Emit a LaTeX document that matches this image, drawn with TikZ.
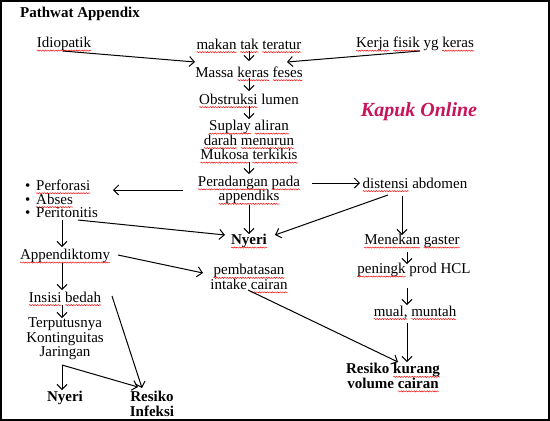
\documentclass[tikz,border=0pt]{standalone}
\usepackage{fontspec}
\setmainfont{Liberation Serif}
\usetikzlibrary{arrows.meta,calc,decorations.pathmorphing}
\definecolor{kapuk}{RGB}{200,20,90}
\newsavebox\rwbox
\newlength\rwlen
\newcommand\rw[1]{\sbox\rwbox{#1}\setlength\rwlen{\wd\rwbox}\rlap{\usebox\rwbox}\begin{tikzpicture}[baseline=0pt,x=1pt,y=1pt]\useasboundingbox (0pt,0pt) rectangle (\rwlen,1pt);\draw[red,line width=0.45pt,decorate,decoration={snake,amplitude=0.6pt,segment length=2.6pt}] (0pt,-3pt) -- (\rwlen,-3pt);\end{tikzpicture}}
\tikzset{
  txt/.style={inner sep=1pt, font=\fontsize{15}{14.5}\selectfont, align=center},
  lst/.style={txt, anchor=west},
  arr/.style={line width=1pt, -{Straight Barb[length=5pt,width=10pt]}},
}
\begin{document}
\begin{tikzpicture}[x=1pt,y=-1pt]
\useasboundingbox (0,0) rectangle (550,421);
\fill[white] (0,0) rectangle (550,421);
\draw[line width=2pt] (1,1) rectangle (549,420);

\node[txt, font=\fontsize{15}{14.5}\selectfont\bfseries] (title) at (80,14) {Pathwat Appendix};
\node[font=\fontsize{20}{20}\selectfont\bfseries\itshape, text=kapuk, inner sep=1pt] (kap) at (419,112) {Kapuk Online};

\node[txt] (idio) at (64,44) {\rw{Idiopatik}};
\node[txt] (makan) at (249,44) {\rw{makan} \rw{tak} \rw{teratur}};
\node[txt] (kerja) at (415,44) {\rw{Kerja} \rw{fisik} yg \rw{keras}};
\node[txt] (massa) at (249,72) {Massa \rw{keras} \rw{feses}};
\node[txt] (obst) at (249,99) {\rw{Obstruksi} lumen};
\node[txt] (sup) at (249,140) {\rw{Suplay} \rw{aliran}\\\rw{darah} \rw{menurun}\\\rw{Mukosa} \rw{terkikis}};
\node[txt] (perad) at (249,190) {\rw{Peradangan} \rw{pada}\\\rw{appendiks}};
\node[txt] (dist) at (415,183) {\rw{distensi} abdomen};
\node[lst] (perf) at (24,185) {\makebox[11pt][l]{\textbullet}\rw{Perforasi}};
\node[lst] (abses) at (24,199) {\makebox[11pt][l]{\textbullet}\rw{Abses}};
\node[lst] (perit) at (24,213) {\makebox[11pt][l]{\textbullet}Peritonitis};
\node[txt] (nyeri) at (249,241) {\textbf{\rw{Nyeri}}};
\node[txt] (menek) at (412,241) {\rw{Menekan} \rw{gaster}};
\node[txt] (app) at (65,256) {\rw{Appendiktomy}};
\node[txt] (pemb) at (249,277) {\rw{pembatasan}\\intake \rw{cairan}};
\node[txt] (pen) at (414,270) {\rw{peningk} prod HCL};
\node[txt] (insisi) at (65,297) {\rw{Insisi} \rw{bedah}};
\node[txt] (mual) at (415,312) {\rw{mual,} \rw{muntah}};
\node[txt] (terp) at (65,339) {Terputusnya\\Kontinguitas\\Jaringan};
\node[txt] (rk) at (393,376) {\textbf{Resiko \rw{kurang}}\\\textbf{volume \rw{cairan}}};
\node[txt] (nyeri2) at (65,398) {\textbf{Nyeri}};
\node[txt] (ri) at (152,404) {\textbf{Resiko}\\\textbf{Infeksi}};

\draw[arr] ($(idio)+(-1,7)$) -- ($(massa)+(-54,-10)$);
\draw[arr] ($(makan)+(0,7)$) -- ($(massa)+(0,-11)$);
\draw[arr] ($(kerja)+(5,7)$) -- ($(massa)+(38,-10)$);
\draw[arr] ($(massa)+(0,6)$) -- ($(obst)+(0,-8)$);
\draw[arr] ($(obst)+(0,7)$) -- ($(sup)+(0,-21)$);
\draw[arr] ($(sup)+(0,22)$) -- ($(perad)+(0,-16)$);
\draw[arr] ($(perad)+(-66,0)$) -- ($(perf.west)+(89,5)$);
\draw[arr] ($(perad)+(63,-7)$) -- ($(dist)+(-55,0)$);
\draw[arr] ($(perad)+(0,15)$) -- ($(nyeri)+(0,-7)$);
\draw[arr] ($(perit.west)+(54,7)$) -- ($(nyeri)+(-24,-6)$);
\draw[arr] ($(dist)+(-27,12)$) -- ($(nyeri)+(26,-6)$);
\draw[arr] ($(dist)+(-13,13)$) -- ($(menek)+(-10,-6)$);
\draw[arr] ($(perit.west)+(38,7)$) -- ($(app)+(-3,-9)$);
\draw[arr] ($(app)+(53,-1)$) -- ($(pemb)+(-46,-4)$);
\draw[arr] ($(menek)+(-5,11)$) -- ($(pen)+(-7,-6)$);
\draw[arr] ($(app)+(-3,7)$) -- ($(insisi)+(-3,-7)$);
\draw[arr] ($(insisi)+(-3,8)$) -- ($(terp)+(-3,-21)$);
\draw[arr] ($(insisi)+(47,-1)$) -- ($(ri)+(-10,-16)$);
\draw[arr] ($(pen)+(-7,18)$) -- ($(mual)+(-8,-7)$);
\draw[arr] ($(pemb)+(-1,13)$) -- ($(rk)+(5,-14)$);
\draw[arr] ($(mual)+(-8,11)$) -- ($(rk)+(14,-14)$);
\draw[arr] ($(terp)+(-3,26)$) -- ($(nyeri2)+(-3,-8)$);
\draw[arr] ($(terp)+(-3,26)$) -- ($(ri)+(-14,-17)$);
\end{tikzpicture}
\end{document}
